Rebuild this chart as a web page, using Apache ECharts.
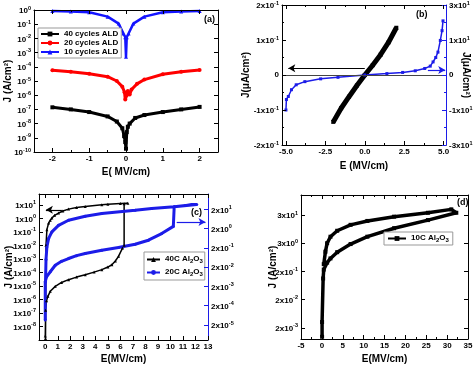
<!DOCTYPE html>
<html><head><meta charset="utf-8">
<script src="https://cdn.jsdelivr.net/npm/echarts@6/dist/echarts.min.js"></script>
<style>html,body{margin:0;padding:0;background:#fff}#c{width:474px;height:365px}</style>
</head><body><div id="c"></div>
<script>
// ================= DATA =================
// (a) J (A/cm2) vs E (MV/cm)
const a40Cycles = [[-2,1.4e-7],[-1.5,1.0e-7],[-1,6.5e-8],[-0.5,3.2e-8],[-0.25,1.4e-8],[-0.1,4.7e-9],[-0.05,1.3e-9],[-0.02,5e-10],[0,1.7e-10],[0.02,2.5e-9],[0.05,6e-9],[0.1,1e-8],[0.25,2.5e-8],[0.5,4e-8],[1,6.5e-8],[1.5,1e-7],[2,1.5e-7]];
const a20Cycles = [[-2,5.8e-5],[-1.5,4.5e-5],[-1,3.2e-5],[-0.5,2e-5],[-0.25,1e-5],[-0.1,4e-6],[-0.04,1.6e-6],[-0.02,5e-7],[0.02,1e-6],[0.05,2e-6],[0.1,1.1e-6],[0.15,2.5e-6],[0.3,6.3e-6],[0.5,1.26e-5],[1,3e-5],[1.5,4.5e-5],[2,6e-5]];
const a10Cycles = [[-2,0.85],[-1.5,0.78],[-1,0.7],[-0.5,0.34],[-0.2,0.11],[-0.07,0.022],[-0.02,0.012],[0,5e-4],[0.02,0.012],[0.07,0.022],[0.2,0.11],[0.5,0.34],[1,0.7],[1.5,0.78],[2,0.85]];
const aNames = ['40 cycles ALD','20 cycles ALD','10 cycles ALD'];

// (b) J (uA/cm2) vs E (MV/cm); black on left axis, blue on right axis
const bBlack = [[-2,-0.134],[-1.5,-0.095],[-1,-0.062],[-0.5,-0.03],[0,0],[0.5,0.028],[1,0.058],[1.5,0.093],[2,0.135]];
const bBlue = [[-5,-15],[-4.97,-10.5],[-4.85,-9.2],[-4.65,-6.3],[-4.35,-4.2],[-3.8,-2.85],[-2.8,-1.65],[-1.7,-1],[0,0],[1.4,0.6],[2.4,1.1],[3.2,1.8],[3.8,2.8],[4.15,3.8],[4.33,5.6],[4.5,7.5],[4.64,9.8],[4.79,14.8],[4.9,19],[4.96,23.2]];

// (c) J (A/cm2) vs E (MV/cm); 40C on left axis, 20C on right axis
const c40C = [[0,2e-9],[0.03,1.6e-7],[0.1,8e-7],[0.21,1.7e-6],[0.4,4e-6],[0.8,9.3e-6],[1.3,1.8e-5],[1.86,2.9e-5],[2.5,4.5e-5],[3.19,6.8e-5],[3.9,1.05e-4],[4.52,1.6e-4],[5.0,2.5e-4],[5.32,3.7e-4],[5.6,7e-4],[5.85,1.55e-3],[6.17,6.3e-3],[6.3,1e-2],[6.3,12],[6.6,13.2],[6.0,12.3],[5.0,11],[4.52,10],[3.19,7.6],[2.5,6.3],[1.86,4.8],[1.4,3.5],[1.06,2.45],[0.75,1.66],[0.53,1.05],[0.4,0.71],[0.27,0.45],[0.13,0.145],[0.06,1e-2],[0.02,1.3e-9]];
const c20C = [[0,3.6e-5],[0,3.5e-3],[0.1,6.3e-3],[0.4,1.15e-2],[0.8,2.5e-2],[1.3,4e-2],[1.86,5.6e-2],[2.5,7.9e-2],[3.19,0.102],[4.52,0.15],[5.85,0.21],[7.18,0.31],[8.24,0.5],[9.3,1.1],[10.23,2.6],[10.3,27],[11.2,32],[12.1,36],[10.3,27.5],[8.5,22],[7.18,17.8],[4.52,12],[3.19,8.7],[1.86,5.4],[1.06,2.95],[0.53,1.35],[0.27,0.62],[0.13,0.22],[0.06,0.05],[0.02,3.5e-3]];
const cNames = ['40C Al2O3','20C Al2O3'];

// (d) J (A/cm2) vs E (MV/cm)
const d10C = [[0.05,1.2e-3],[0.05,4e-3],[0.3,0.14],[0.45,0.29],[1.26,0.51],[2.06,0.72],[3.67,1.2],[6.88,2.33],[10.9,4.25],[17.3,8.5],[25.4,16.5],[32.2,30],[31,39.6],[25.4,30],[17.3,21.8],[10.9,15.4],[6.88,11.2],[3.67,6.9],[2.06,4.25],[1.26,2.5],[0.85,1.25],[0.45,0.45]];
const dNames = ['10C Al2O3'];

// ticks and tick labels
const aXTicks = [-2,-1,0,1,2], aXLabels = ['-2','-1','0','1','2'];
const aYTicks = [1,1e-1,1e-2,1e-3,1e-4,1e-5,1e-6,1e-7,1e-8,1e-9,1e-10];
const aYLabels = ['10^0','10^-1','10^-2','10^-3','10^-4','10^-5','10^-6','10^-7','10^-8','10^-9','10^-10'];
const bXTicks = [-5,-2.5,0,2.5,5], bXLabels = ['-5.0','-2.5','0.0','2.5','5.0'];
const bYLTicks = [0.2,0.1,0,-0.1,-0.2], bYLLabels = ['2x10^-1','1x10^-1','0','-1x10^-1','-2x10^-1'];
const bYRTicks = [30,15,0,-15,-30], bYRLabels = ['3x10^1','1x10^1','0','-1x10^1','-3x10^1'];
const cXTicks = [0,1,2,3,4,5,6,7,8,9,10,11,12,13], cXLabels = ['0','1','2','3','4','5','6','7','8','9','10','11','12','13'];
const cYLTicks = [1e1,1,1e-1,1e-2,1e-3,1e-4,1e-5,1e-6,1e-7,1e-8];
const cYLLabels = ['1x10^1','1x10^0','1x10^-1','1x10^-2','1x10^-3','1x10^-4','1x10^-5','1x10^-6','1x10^-7','1x10^-8'];
const cYRTicks = [20,2,0.2,0.02,2e-3,2e-4,2e-5];
const cYRLabels = ['2x10^1','2x10^0','2x10^-1','2x10^-2','2x10^-3','2x10^-4','2x10^-5'];
const dXTicks = [-5,0,5,10,15,20,25,30,35], dXLabels = ['-5','0','5','10','15','20','25','30','35'];
const dYTicks = [25,2.5,0.25,0.025,0.0025], dYLabels = ['3x10^1','3x10^0','2x10^-1','2x10^-2','2x10^-3'];

// ================= BUILD =================
const FONT = '"Liberation Sans", Arial, sans-serif';
const BLUE = '#1c1ce8';
const rich = {
  b: {fontSize: 8, fontWeight: 'bold', fontFamily: FONT, color: '#000', verticalAlign: 'bottom'},
  s: {fontSize: 5.5, fontWeight: 'bold', fontFamily: FONT, color: '#000', verticalAlign: 'bottom', padding: [0, 0, 4, 0]}
};
function sup(t) {
  const i = t.indexOf('^');
  return i < 0 ? '{b|' + t + '}' : '{b|' + t.slice(0, i) + '}{s|' + t.slice(i + 1) + '}';
}
function labeller(ticks, texts, isLog) {
  return function (v) {
    let best = 0, bd = Infinity;
    ticks.forEach(function (t, i) {
      const d = isLog ? Math.abs(Math.log10(v) - Math.log10(t)) : Math.abs(v - t);
      if (d < bd) { bd = d; best = i; }
    });
    return sup(texts[best]);
  };
}
const xAxis = [], yAxis = [];
function mk(list, o) {
  const color = o.color || '#000';
  list.push({
    gridIndex: o.grid, type: o.type || 'value', min: o.min, max: o.max, position: o.pos,
    name: o.name || '', nameLocation: 'middle', nameGap: o.nameGap || 0, nameRotate: o.nameRotate,
    nameMoveOverlap: false,
    nameTextStyle: {fontSize: 10, fontWeight: 'bold', fontFamily: FONT, color: '#000'},
    axisLine: {show: o.line !== false, onZero: false, lineStyle: {color: color, width: 1}},
    axisTick: {show: true, inside: true, length: o.tickLen || 4, customValues: o.ticks, lineStyle: {color: color, width: 1}},
    axisLabel: o.labels ? {show: true, customValues: o.ticks, margin: 3, formatter: labeller(o.ticks, o.labels, o.type === 'log'), rich: rich, showMinLabel: true, showMaxLabel: true}
                        : {show: false},
    splitLine: {show: false}, minorTick: {show: false}, splitArea: {show: false},
    z: 5
  });
  return list.length - 1;
}
function minors(ticks) {
  const r = [];
  for (let i = 0; i < ticks.length - 1; i++) r.push((ticks[i] + ticks[i + 1]) / 2);
  return r;
}

const grid = [
  {left: 34, top: 10, width: 184, height: 142},
  {left: 282, top: 5, width: 164, height: 140},
  {left: 39, top: 194, width: 169, height: 146},
  {left: 301, top: 195, width: 167, height: 144}
].map(g => Object.assign({containLabel: false, outerBoundsMode: 'none'}, g));

// --- panel a
const xa = mk(xAxis, {grid: 0, min: -2.5, max: 2.5, pos: 'bottom', ticks: aXTicks, labels: aXLabels, name: 'E( MV/cm)', nameGap: 15});
mk(xAxis, {grid: 0, min: -2.5, max: 2.5, pos: 'top', ticks: aXTicks});
mk(xAxis, {grid: 0, min: -2.5, max: 2.5, pos: 'bottom', ticks: minors(aXTicks), line: false, tickLen: 2});
mk(xAxis, {grid: 0, min: -2.5, max: 2.5, pos: 'top', ticks: minors(aXTicks), line: false, tickLen: 2});
const ya = mk(yAxis, {grid: 0, type: 'log', min: 1e-10, max: 1, pos: 'left', ticks: aYTicks, labels: aYLabels, name: 'J (A/cm²)', nameGap: 21});
mk(yAxis, {grid: 0, type: 'log', min: 1e-10, max: 1, pos: 'right', ticks: aYTicks});

// --- panel b
const xb = mk(xAxis, {grid: 1, min: -5.25, max: 5.15, pos: 'bottom', ticks: bXTicks, labels: bXLabels, name: 'E (MV/cm)', nameGap: 16});
mk(xAxis, {grid: 1, min: -5.25, max: 5.15, pos: 'top', ticks: bXTicks});
mk(xAxis, {grid: 1, min: -5.25, max: 5.15, pos: 'bottom', ticks: minors(bXTicks), line: false, tickLen: 2});
mk(xAxis, {grid: 1, min: -5.25, max: 5.15, pos: 'top', ticks: minors(bXTicks), line: false, tickLen: 2});
const ybL = mk(yAxis, {grid: 1, min: -0.2, max: 0.2, pos: 'left', ticks: bYLTicks, labels: bYLLabels, name: 'J(μA/cm²)', nameGap: 31});
mk(yAxis, {grid: 1, min: -0.2, max: 0.2, pos: 'left', ticks: minors(bYLTicks), line: false, tickLen: 2});
const ybR = mk(yAxis, {grid: 1, min: -30, max: 30, pos: 'right', ticks: bYRTicks, labels: bYRLabels, color: BLUE, name: 'J(μA/cm²)', nameGap: 15, nameRotate: -90});
mk(yAxis, {grid: 1, min: -30, max: 30, pos: 'right', ticks: minors(bYRTicks), line: false, tickLen: 2, color: BLUE});

// --- panel c
const xc = mk(xAxis, {grid: 2, min: -0.5, max: 13, pos: 'bottom', ticks: cXTicks, labels: cXLabels, name: 'E(MV/cm)', nameGap: 14});
mk(xAxis, {grid: 2, min: -0.5, max: 13, pos: 'top', ticks: cXTicks});
const ycL = mk(yAxis, {grid: 2, type: 'log', min: 1e-9, max: 63.1, pos: 'left', ticks: cYLTicks, labels: cYLLabels, name: 'J (A/cm²)', nameGap: 25});
const ycR = mk(yAxis, {grid: 2, type: 'log', min: 3.33e-6, max: 124.5, pos: 'right', ticks: cYRTicks, labels: cYRLabels, color: BLUE});

// --- panel d
const xd = mk(xAxis, {grid: 3, min: -5, max: 35, pos: 'bottom', ticks: dXTicks, labels: dXLabels, name: 'E(MV/cm)', nameGap: 15});
mk(xAxis, {grid: 3, min: -5, max: 35, pos: 'top', ticks: dXTicks});
mk(xAxis, {grid: 3, min: -5, max: 35, pos: 'bottom', ticks: minors(dXTicks), line: false, tickLen: 2});
mk(xAxis, {grid: 3, min: -5, max: 35, pos: 'top', ticks: minors(dXTicks), line: false, tickLen: 2});
const yd = mk(yAxis, {grid: 3, type: 'log', min: 1e-3, max: 128, pos: 'left', ticks: dYTicks, labels: dYLabels, name: 'J (A/cm²)', nameGap: 23});
mk(yAxis, {grid: 3, type: 'log', min: 1e-3, max: 128, pos: 'right', ticks: dYTicks});

function line(name, data, xi, yi, color, symbol, width, size, extra) {
  return Object.assign({
    type: 'line', name: name, data: data, xAxisIndex: xi, yAxisIndex: yi,
    symbol: symbol, symbolSize: size, showSymbol: true, animation: false,
    itemStyle: {color: color}, lineStyle: {color: color, width: width}, z: 3
  }, extra || {});
}
const arrow = {symbol: ['none', 'arrow'], symbolSize: [6, 7], silent: true, animation: false, label: {show: false}};

const series = [
  line(aNames[0], a40Cycles, xa, ya, '#000', 'rect', 3, 4),
  line(aNames[1], a20Cycles, xa, ya, '#f00', 'circle', 3, 4),
  line(aNames[2], a10Cycles, xa, ya, '#1414ff', 'triangle', 2.5, 4),
  line('b black', bBlack, xb, ybL, '#000', 'rect', 5, 4, {
    markLine: Object.assign({}, arrow, {lineStyle: {color: '#000', width: 1, type: 'solid'},
      data: [
        [{coord: [-5.25, 0], symbol: 'none'}, {coord: [5.15, 0], symbol: 'none', lineStyle: {color: '#444'}}],
        [{coord: [0, 0.019]}, {coord: [-4.85, 0.019]}]
      ]})
  }),
  line('b blue', bBlue, xb, ybR, BLUE, 'rect', 1.5, 3, {
    markLine: Object.assign({}, arrow, {lineStyle: {color: BLUE, width: 1.2, type: 'solid'},
      data: [[{coord: [4.0, 2.1]}, {coord: [5.1, 2.1]}]]})
  }),
  line(cNames[0], c40C, xc, ycL, '#000', 'triangle', 1.5, 3, {
    markLine: Object.assign({}, arrow, {lineStyle: {color: '#000', width: 1.2, type: 'solid'},
      data: [[{coord: [1.33, 4.3]}, {coord: [0.05, 4.3]}]]})
  }),
  line(cNames[1], c20C, xc, ycR, BLUE, 'circle', 3, 3, {
    markLine: Object.assign({}, arrow, {lineStyle: {color: BLUE, width: 1.2, type: 'solid'},
      data: [[{coord: [10.5, 4.4]}, {coord: [12.8, 4.4]}]]})
  }),
  line(dNames[0], d10C, xd, yd, '#000', 'rect', 3.5, 4)
];

const legendRich = {
  t: {fontSize: 8, fontWeight: 'bold', fontFamily: FONT, color: '#000', verticalAlign: 'top'},
  u: {fontSize: 6, fontWeight: 'bold', fontFamily: FONT, color: '#000', verticalAlign: 'top', padding: [3, 0, 0, 0]}
};
function chem(name) { return name.replace(/^(.*?)Al2O3$/, '{t|$1Al}{u|2}{t|O}{u|3}'); }
const legBase = {orient: 'vertical', itemWidth: 18, itemHeight: 6, borderColor: '#999', borderWidth: 1,
  backgroundColor: '#fff', selectedMode: false, textStyle: {fontSize: 8, fontWeight: 'bold', fontFamily: FONT, color: '#000', rich: legendRich}};
const legend = [
  Object.assign({}, legBase, {data: aNames, left: 38, top: 28, itemGap: 1, padding: [2, 3, 2, 2]}),
  Object.assign({}, legBase, {data: cNames, left: 144, top: 252, itemGap: 4, itemWidth: 13, padding: [3, 2, 3, 2], formatter: chem}),
  Object.assign({}, legBase, {data: dNames, left: 384, top: 232, itemGap: 2, padding: [2, 4, 2, 3], formatter: chem})
];

function tag(t, x, y) {
  return {type: 'text', left: x, top: y, z: 10, style: {text: t, fontSize: 9, fontWeight: 'bold', fontFamily: FONT, fill: '#000'}};
}

const chart = echarts.init(document.getElementById('c'), null, {renderer: 'canvas'});
chart.setOption({
  animation: false,
  backgroundColor: '#fff',
  grid: grid, xAxis: xAxis, yAxis: yAxis, series: series, legend: legend,
  graphic: [tag('(a)', 204, 15), tag('(b)', 416, 10), tag('(c)', 191, 208), tag('(d)', 457, 198)]
});
</script></body></html>
